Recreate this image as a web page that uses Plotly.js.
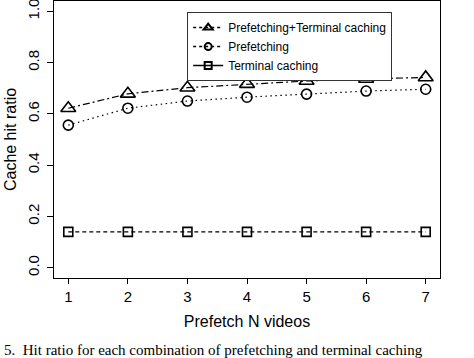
<!DOCTYPE html>
<html>
<head>
<meta charset="utf-8">
<script src="https://cdn.plot.ly/plotly-3.0.1.min.js"></script>
<style>html,body{margin:0;padding:0;background:#fff;}#chart{width:474px;height:358px;}</style>
</head>
<body>
<div id="chart"></div>
<script>
var prefetchN = [1, 2, 3, 4, 5, 6, 7];
var prefetchTerminal = [0.622, 0.678, 0.702, 0.716, 0.728, 0.736, 0.742];
var prefetching = [0.556, 0.622, 0.650, 0.665, 0.677, 0.689, 0.696];
var terminalCaching = [0.140, 0.140, 0.140, 0.140, 0.140, 0.140, 0.140];
var seriesNames = ["Prefetching+Terminal caching", "Prefetching", "Terminal caching"];
var yTicks = [0.0, 0.2, 0.4, 0.6, 0.8, 1.0];
var yTickText = ["0.0", "0.2", "0.4", "0.6", "0.8", "1.0"];
var xTitle = "Prefetch N videos";
var yTitle = "Cache hit ratio";
var caption = "5.  Hit ratio for each combination of prefetching and terminal caching";

var font = "Liberation Sans, Arial, Helvetica, sans-serif";
var seriesY = [prefetchTerminal, prefetching, terminalCaching];
var dashes = ["7px,3px,2px,3px", "1.5px,3.5px", "4px,3px"];
var symbols = ["triangle-up-open", "circle-open", "square-open"];
var sizes = [13, 10, 9];
var legendSizes = [8, 7, 7];

var traces = [];
for (var i = 0; i < 3; i++) {
  traces.push({x: prefetchN, y: seriesY[i], name: seriesNames[i], type: "scatter", mode: "lines+markers",
    showlegend: false,
    line: {color: "#000", width: 1.2, dash: dashes[i]},
    marker: {symbol: symbols[i], size: sizes[i], color: "#000", line: {width: 1.6, color: "#000"}}});
}
for (var j = 0; j < 3; j++) {
  traces.push({x: [null], y: [null], name: seriesNames[j], type: "scatter", mode: "lines+markers",
    showlegend: true,
    line: {color: "#000", width: 1.5, dash: j === 2 ? "solid" : "dot"},
    marker: {symbol: symbols[j], size: legendSizes[j], color: "#000", line: {width: 2, color: "#000"}}});
}

var layout = {
  width: 474, height: 358,
  margin: {l: 54, r: 34, t: 1, b: 80, pad: 0},
  paper_bgcolor: "#fff", plot_bgcolor: "#fff",
  font: {family: font, size: 15, color: "#000"},
  showlegend: true,
  legend: {x: 0.345, y: 0.96, xanchor: "left", yanchor: "top",
    bordercolor: "#333", borderwidth: 1, bgcolor: "#fff",
    font: {family: font, size: 12, color: "#000"}, itemwidth: 30, tracegroupgap: 0},
  xaxis: {range: [0.76, 7.24], tickvals: prefetchN, ticks: "outside", ticklen: 5, tickwidth: 1, tickcolor: "#000",
    showline: true, linecolor: "#000", linewidth: 1, mirror: true, showgrid: false, zeroline: false,
    tickfont: {family: font, size: 15},
    title: {text: xTitle, font: {family: font, size: 16}, standoff: 11}},
  yaxis: {range: [-0.04, 1.04], tickvals: yTicks, ticktext: yTickText, tickangle: -90, ticks: "outside", ticklen: 6, tickwidth: 1, tickcolor: "#000",
    ticklabeloverflow: "allow", ticklabelstandoff: 2,
    showline: true, linecolor: "#000", linewidth: 1, mirror: true, showgrid: false, zeroline: false,
    tickfont: {family: font, size: 15},
    title: {text: yTitle, font: {family: font, size: 16}, standoff: 4}},
  annotations: [{xref: "paper", yref: "paper", x: -0.135, y: -0.225, xanchor: "left", yanchor: "top",
    text: caption, showarrow: false, font: {family: "Liberation Serif, Times New Roman, serif", size: 15, color: "#000"}}]
};
Plotly.newPlot("chart", traces, layout, {displayModeBar: false, staticPlot: true});
</script>
</body>
</html>
